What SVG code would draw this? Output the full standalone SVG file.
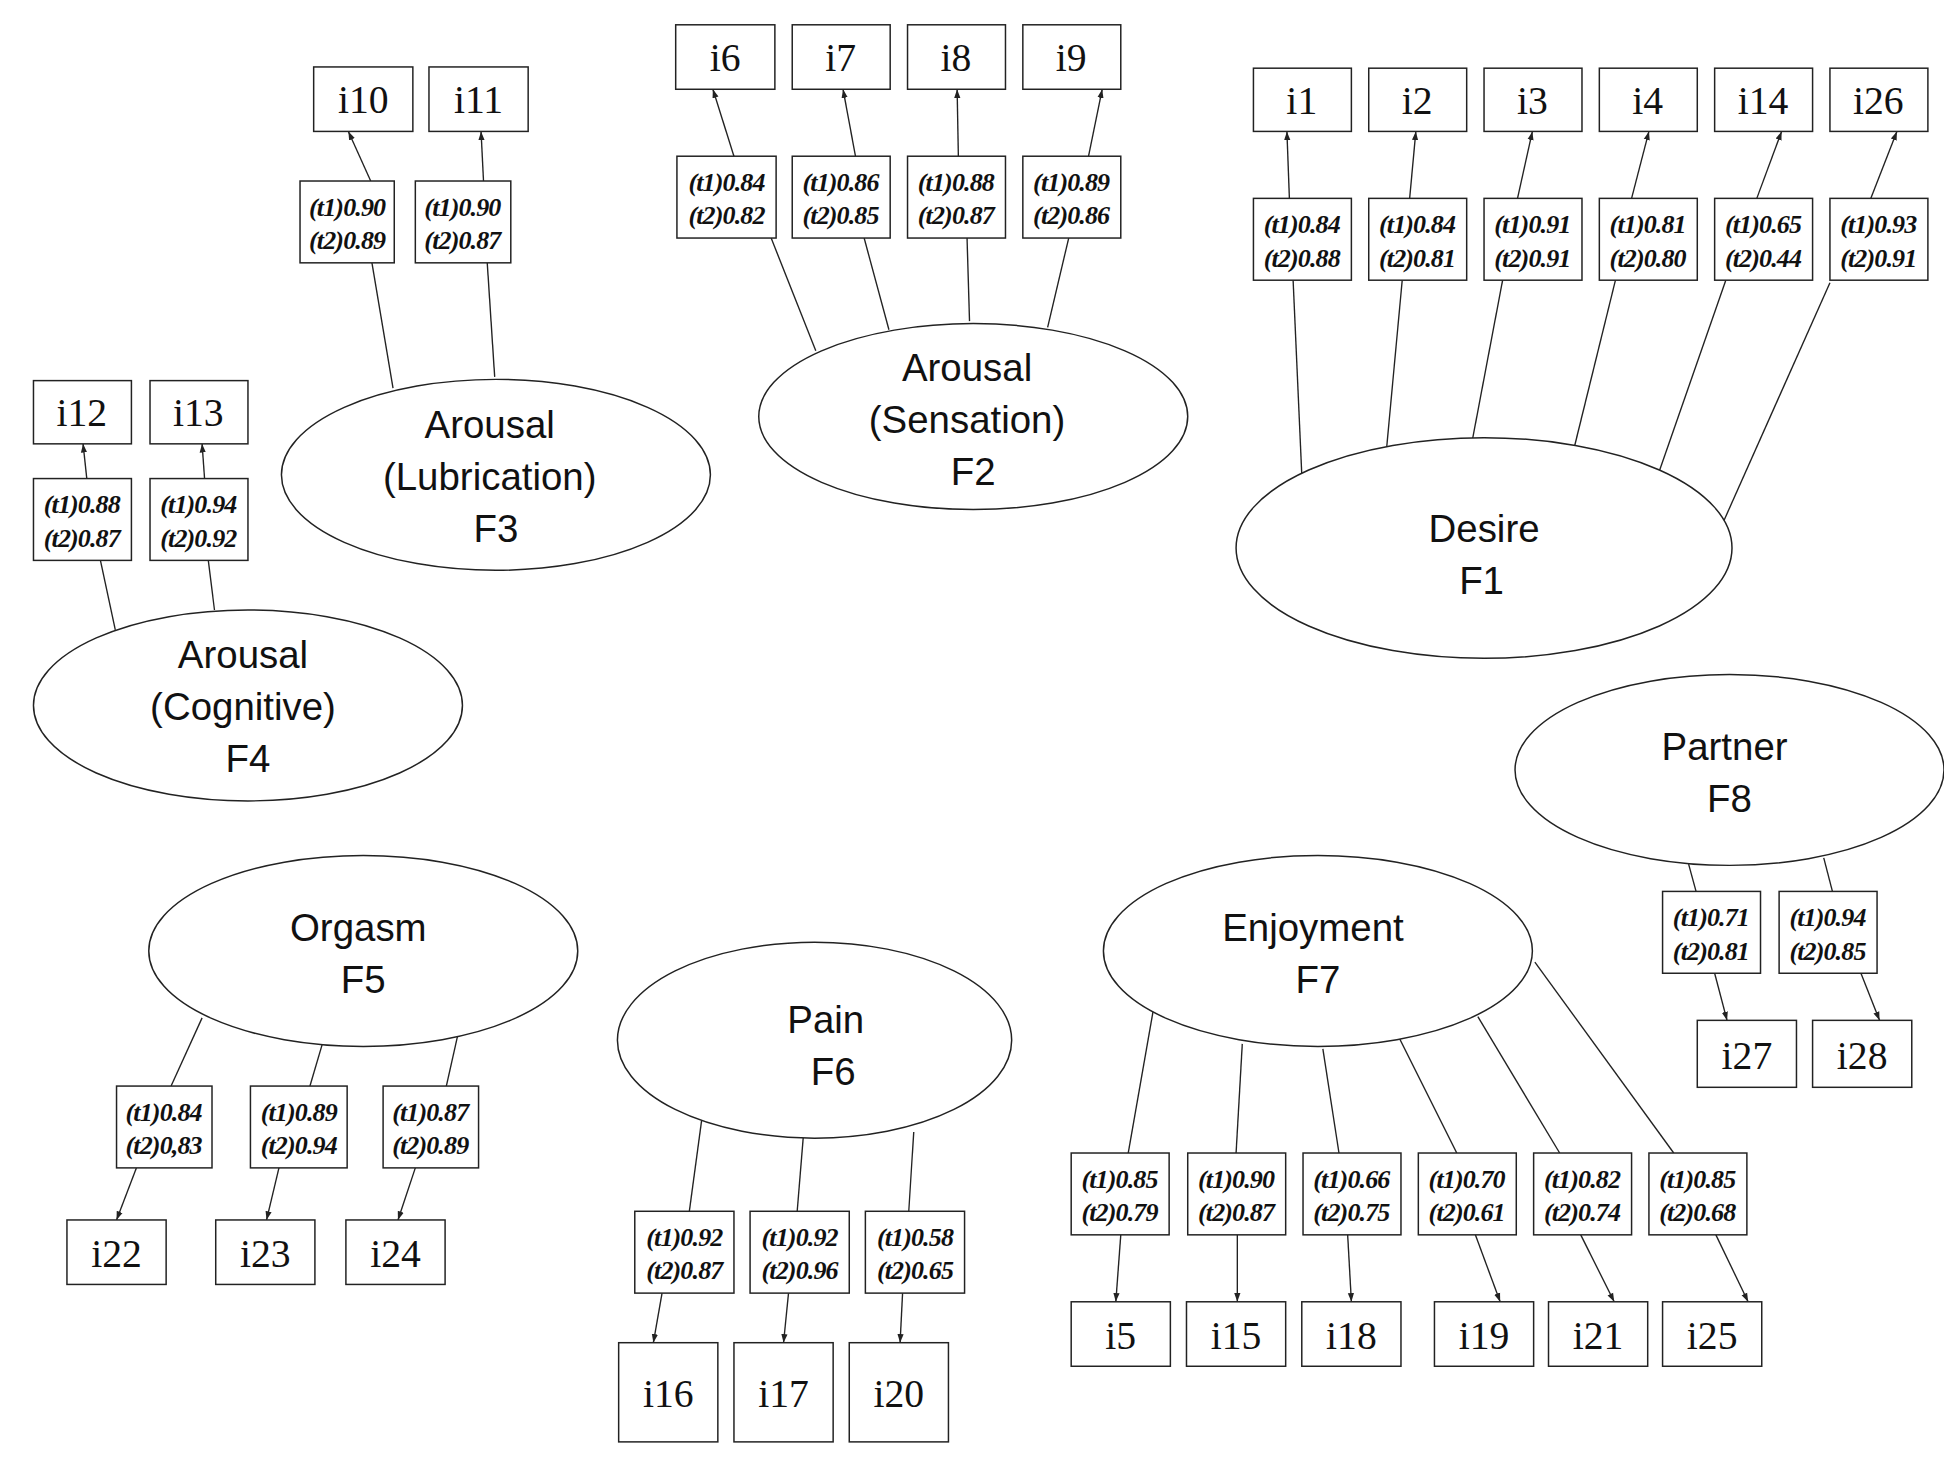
<svg xmlns="http://www.w3.org/2000/svg" width="1944" height="1459" viewBox="0 0 1944 1459">
<style>
.b{fill:#fff;stroke:#222;stroke-width:1.2}
.e{fill:#fff;stroke:#222;stroke-width:1.2}
.it{font-family:"Liberation Serif",serif;font-size:32px;text-anchor:middle;fill:#111}
.ld{font-family:"Liberation Serif",serif;font-size:21px;font-weight:bold;font-style:italic;letter-spacing:-0.7px;text-anchor:middle;fill:#111}
.ft{font-family:"Liberation Sans",Arial,sans-serif;font-size:31px;text-anchor:middle;fill:#111}
.c line{stroke:#222;stroke-width:1.1}
</style>
<defs><marker id="a" markerWidth="8" markerHeight="8" refX="7" refY="4" orient="auto" markerUnits="userSpaceOnUse"><path d="M0,1.5 L7,4 L0,6.5 Z" fill="#222"/></marker></defs>
<rect width="1944" height="1459" fill="#fff"/>
<g transform="scale(1.2398)">
<g class="c" id="connectors">
<line x1="317" y1="313" x2="300" y2="212"/><line x1="299" y1="146" x2="281" y2="106" marker-end="url(#a)"/>
<line x1="399" y1="304" x2="393" y2="212"/><line x1="390" y1="146" x2="388" y2="106" marker-end="url(#a)"/>
<line x1="658" y1="283" x2="622" y2="192"/><line x1="592" y1="126" x2="575" y2="72" marker-end="url(#a)"/>
<line x1="717" y1="266" x2="697" y2="192"/><line x1="690" y1="126" x2="680" y2="72" marker-end="url(#a)"/>
<line x1="782" y1="259" x2="780" y2="192"/><line x1="773" y1="126" x2="772" y2="72" marker-end="url(#a)"/>
<line x1="845" y1="264" x2="862" y2="192"/><line x1="878" y1="126" x2="889" y2="72" marker-end="url(#a)"/>
<line x1="1050" y1="383" x2="1043" y2="226"/><line x1="1040" y1="160" x2="1038" y2="106" marker-end="url(#a)"/>
<line x1="1118" y1="366" x2="1131" y2="226"/><line x1="1137" y1="160" x2="1142" y2="106" marker-end="url(#a)"/>
<line x1="1187" y1="358" x2="1212" y2="226"/><line x1="1224" y1="160" x2="1236" y2="106" marker-end="url(#a)"/>
<line x1="1269" y1="364" x2="1303" y2="226"/><line x1="1316" y1="160" x2="1330" y2="106" marker-end="url(#a)"/>
<line x1="1337" y1="384" x2="1392" y2="226"/><line x1="1417" y1="160" x2="1437" y2="106" marker-end="url(#a)"/>
<line x1="1390" y1="421" x2="1476" y2="228"/><line x1="1509" y1="160" x2="1530" y2="106" marker-end="url(#a)"/>
<line x1="93" y1="508" x2="81" y2="452"/><line x1="70" y1="386" x2="67" y2="358" marker-end="url(#a)"/>
<line x1="173" y1="492" x2="168" y2="452"/><line x1="165" y1="386" x2="163" y2="358" marker-end="url(#a)"/>
<line x1="163" y1="821" x2="138" y2="876"/><line x1="110" y1="942" x2="94" y2="984" marker-end="url(#a)"/>
<line x1="260" y1="842" x2="250" y2="876"/><line x1="225" y1="942" x2="215" y2="984" marker-end="url(#a)"/>
<line x1="369" y1="836" x2="360" y2="876"/><line x1="335" y1="942" x2="321" y2="984" marker-end="url(#a)"/>
<line x1="566" y1="903" x2="556" y2="977"/><line x1="534" y1="1043" x2="527" y2="1083" marker-end="url(#a)"/>
<line x1="648" y1="916" x2="643" y2="977"/><line x1="636" y1="1043" x2="632" y2="1083" marker-end="url(#a)"/>
<line x1="737" y1="913" x2="733" y2="977"/><line x1="728" y1="1043" x2="726" y2="1083" marker-end="url(#a)"/>
<line x1="930" y1="816" x2="910" y2="930"/><line x1="904" y1="996" x2="900" y2="1050" marker-end="url(#a)"/>
<line x1="1002" y1="842" x2="997" y2="930"/><line x1="998" y1="996" x2="998" y2="1050" marker-end="url(#a)"/>
<line x1="1067" y1="846" x2="1080" y2="930"/><line x1="1087" y1="996" x2="1090" y2="1050" marker-end="url(#a)"/>
<line x1="1129" y1="838" x2="1175" y2="930"/><line x1="1190" y1="996" x2="1210" y2="1050" marker-end="url(#a)"/>
<line x1="1192" y1="820" x2="1258" y2="930"/><line x1="1275" y1="996" x2="1302" y2="1050" marker-end="url(#a)"/>
<line x1="1238" y1="776" x2="1350" y2="930"/><line x1="1384" y1="996" x2="1410" y2="1050" marker-end="url(#a)"/>
<line x1="1362" y1="697" x2="1368" y2="719"/><line x1="1383" y1="785" x2="1393" y2="823" marker-end="url(#a)"/>
<line x1="1471" y1="692" x2="1478" y2="719"/><line x1="1501" y1="785" x2="1516" y2="823" marker-end="url(#a)"/>
</g>
<g id="F3"><ellipse class="e" cx="400" cy="383" rx="173" ry="77"/><text class="ft" x="395" y="353">Arousal</text><text class="ft" x="395" y="395">(Lubrication)</text><text class="ft" x="400" y="437">F3</text></g>
<g id="F2"><ellipse class="e" cx="785" cy="336" rx="173" ry="75"/><text class="ft" x="780" y="307">Arousal</text><text class="ft" x="780" y="349">(Sensation)</text><text class="ft" x="785" y="391">F2</text></g>
<g id="F1"><ellipse class="e" cx="1197" cy="442" rx="200" ry="89"/><text class="ft" x="1197" y="437">Desire</text><text class="ft" x="1195" y="479">F1</text></g>
<g id="F4"><ellipse class="e" cx="200" cy="569" rx="173" ry="77"/><text class="ft" x="196" y="539">Arousal</text><text class="ft" x="196" y="581">(Cognitive)</text><text class="ft" x="200" y="623">F4</text></g>
<g id="F5"><ellipse class="e" cx="293" cy="767" rx="173" ry="77"/><text class="ft" x="289" y="759">Orgasm</text><text class="ft" x="293" y="801">F5</text></g>
<g id="F6"><ellipse class="e" cx="657" cy="839" rx="159" ry="79"/><text class="ft" x="666" y="833">Pain</text><text class="ft" x="672" y="875">F6</text></g>
<g id="F7"><ellipse class="e" cx="1063" cy="767" rx="173" ry="77"/><text class="ft" x="1059" y="759">Enjoyment</text><text class="ft" x="1063" y="801">F7</text></g>
<g id="F8"><ellipse class="e" cx="1395" cy="621" rx="173" ry="77"/><text class="ft" x="1391" y="613">Partner</text><text class="ft" x="1395" y="655">F8</text></g>
<g id="i10"><rect class="b" x="253" y="54" width="80" height="52"/><text class="it" x="293" y="91">i10</text></g>
<g id="i11"><rect class="b" x="346" y="54" width="80" height="52"/><text class="it" x="386" y="91">i11</text></g>
<g id="i6"><rect class="b" x="545" y="20" width="80" height="52"/><text class="it" x="585" y="57">i6</text></g>
<g id="i7"><rect class="b" x="639" y="20" width="79" height="52"/><text class="it" x="678" y="57">i7</text></g>
<g id="i8"><rect class="b" x="732" y="20" width="79" height="52"/><text class="it" x="771" y="57">i8</text></g>
<g id="i9"><rect class="b" x="825" y="20" width="79" height="52"/><text class="it" x="864" y="57">i9</text></g>
<g id="i1"><rect class="b" x="1011" y="55" width="79" height="51"/><text class="it" x="1050" y="92">i1</text></g>
<g id="i2"><rect class="b" x="1104" y="55" width="79" height="51"/><text class="it" x="1143" y="92">i2</text></g>
<g id="i3"><rect class="b" x="1197" y="55" width="79" height="51"/><text class="it" x="1236" y="92">i3</text></g>
<g id="i4"><rect class="b" x="1290" y="55" width="79" height="51"/><text class="it" x="1329" y="92">i4</text></g>
<g id="i14"><rect class="b" x="1383" y="55" width="79" height="51"/><text class="it" x="1422" y="92">i14</text></g>
<g id="i26"><rect class="b" x="1476" y="55" width="79" height="51"/><text class="it" x="1515" y="92">i26</text></g>
<g id="i12"><rect class="b" x="27" y="307" width="79" height="51"/><text class="it" x="66" y="344">i12</text></g>
<g id="i13"><rect class="b" x="121" y="307" width="79" height="51"/><text class="it" x="160" y="344">i13</text></g>
<g id="i22"><rect class="b" x="54" y="984" width="80" height="52"/><text class="it" x="94" y="1022">i22</text></g>
<g id="i23"><rect class="b" x="174" y="984" width="80" height="52"/><text class="it" x="214" y="1022">i23</text></g>
<g id="i24"><rect class="b" x="279" y="984" width="80" height="52"/><text class="it" x="319" y="1022">i24</text></g>
<g id="i16"><rect class="b" x="499" y="1083" width="80" height="80"/><text class="it" x="539" y="1135">i16</text></g>
<g id="i17"><rect class="b" x="592" y="1083" width="80" height="80"/><text class="it" x="632" y="1135">i17</text></g>
<g id="i20"><rect class="b" x="685" y="1083" width="80" height="80"/><text class="it" x="725" y="1135">i20</text></g>
<g id="i5"><rect class="b" x="864" y="1050" width="80" height="52"/><text class="it" x="904" y="1088">i5</text></g>
<g id="i15"><rect class="b" x="957" y="1050" width="80" height="52"/><text class="it" x="997" y="1088">i15</text></g>
<g id="i18"><rect class="b" x="1050" y="1050" width="80" height="52"/><text class="it" x="1090" y="1088">i18</text></g>
<g id="i19"><rect class="b" x="1157" y="1050" width="80" height="52"/><text class="it" x="1197" y="1088">i19</text></g>
<g id="i21"><rect class="b" x="1249" y="1050" width="80" height="52"/><text class="it" x="1289" y="1088">i21</text></g>
<g id="i25"><rect class="b" x="1341" y="1050" width="80" height="52"/><text class="it" x="1381" y="1088">i25</text></g>
<g id="i27"><rect class="b" x="1369" y="823" width="80" height="54"/><text class="it" x="1409" y="862">i27</text></g>
<g id="i28"><rect class="b" x="1462" y="823" width="80" height="54"/><text class="it" x="1502" y="862">i28</text></g>
<g id="L10"><rect class="b" x="242" y="146" width="76" height="66"/><text class="ld" x="280" y="174">(t1)0.90</text><text class="ld" x="280" y="201">(t2)0.89</text></g>
<g id="L11"><rect class="b" x="335" y="146" width="77" height="66"/><text class="ld" x="373" y="174">(t1)0.90</text><text class="ld" x="373" y="201">(t2)0.87</text></g>
<g id="L6"><rect class="b" x="546" y="126" width="80" height="66"/><text class="ld" x="586" y="154">(t1)0.84</text><text class="ld" x="586" y="181">(t2)0.82</text></g>
<g id="L7"><rect class="b" x="639" y="126" width="79" height="66"/><text class="ld" x="678" y="154">(t1)0.86</text><text class="ld" x="678" y="181">(t2)0.85</text></g>
<g id="L8"><rect class="b" x="732" y="126" width="79" height="66"/><text class="ld" x="771" y="154">(t1)0.88</text><text class="ld" x="771" y="181">(t2)0.87</text></g>
<g id="L9"><rect class="b" x="825" y="126" width="79" height="66"/><text class="ld" x="864" y="154">(t1)0.89</text><text class="ld" x="864" y="181">(t2)0.86</text></g>
<g id="L1"><rect class="b" x="1011" y="160" width="79" height="66"/><text class="ld" x="1050" y="188">(t1)0.84</text><text class="ld" x="1050" y="215">(t2)0.88</text></g>
<g id="L2"><rect class="b" x="1104" y="160" width="79" height="66"/><text class="ld" x="1143" y="188">(t1)0.84</text><text class="ld" x="1143" y="215">(t2)0.81</text></g>
<g id="L3"><rect class="b" x="1197" y="160" width="79" height="66"/><text class="ld" x="1236" y="188">(t1)0.91</text><text class="ld" x="1236" y="215">(t2)0.91</text></g>
<g id="L4"><rect class="b" x="1290" y="160" width="79" height="66"/><text class="ld" x="1329" y="188">(t1)0.81</text><text class="ld" x="1329" y="215">(t2)0.80</text></g>
<g id="L14"><rect class="b" x="1383" y="160" width="79" height="66"/><text class="ld" x="1422" y="188">(t1)0.65</text><text class="ld" x="1422" y="215">(t2)0.44</text></g>
<g id="L26"><rect class="b" x="1476" y="160" width="79" height="66"/><text class="ld" x="1515" y="188">(t1)0.93</text><text class="ld" x="1515" y="215">(t2)0.91</text></g>
<g id="L12"><rect class="b" x="27" y="386" width="79" height="66"/><text class="ld" x="66" y="414">(t1)0.88</text><text class="ld" x="66" y="441">(t2)0.87</text></g>
<g id="L13"><rect class="b" x="121" y="386" width="79" height="66"/><text class="ld" x="160" y="414">(t1)0.94</text><text class="ld" x="160" y="441">(t2)0.92</text></g>
<g id="L22"><rect class="b" x="94" y="876" width="77" height="66"/><text class="ld" x="132" y="904">(t1)0.84</text><text class="ld" x="132" y="931">(t2)0,83</text></g>
<g id="L23"><rect class="b" x="202" y="876" width="78" height="66"/><text class="ld" x="241" y="904">(t1)0.89</text><text class="ld" x="241" y="931">(t2)0.94</text></g>
<g id="L24"><rect class="b" x="309" y="876" width="77" height="66"/><text class="ld" x="347" y="904">(t1)0.87</text><text class="ld" x="347" y="931">(t2)0.89</text></g>
<g id="L16"><rect class="b" x="512" y="977" width="80" height="66"/><text class="ld" x="552" y="1005">(t1)0.92</text><text class="ld" x="552" y="1032">(t2)0.87</text></g>
<g id="L17"><rect class="b" x="605" y="977" width="80" height="66"/><text class="ld" x="645" y="1005">(t1)0.92</text><text class="ld" x="645" y="1032">(t2)0.96</text></g>
<g id="L20"><rect class="b" x="698" y="977" width="80" height="66"/><text class="ld" x="738" y="1005">(t1)0.58</text><text class="ld" x="738" y="1032">(t2)0.65</text></g>
<g id="L5"><rect class="b" x="864" y="930" width="79" height="66"/><text class="ld" x="903" y="958">(t1)0.85</text><text class="ld" x="903" y="985">(t2)0.79</text></g>
<g id="L15"><rect class="b" x="958" y="930" width="79" height="66"/><text class="ld" x="997" y="958">(t1)0.90</text><text class="ld" x="997" y="985">(t2)0.87</text></g>
<g id="L18"><rect class="b" x="1051" y="930" width="79" height="66"/><text class="ld" x="1090" y="958">(t1)0.66</text><text class="ld" x="1090" y="985">(t2)0.75</text></g>
<g id="L19"><rect class="b" x="1144" y="930" width="79" height="66"/><text class="ld" x="1183" y="958">(t1)0.70</text><text class="ld" x="1183" y="985">(t2)0.61</text></g>
<g id="L21"><rect class="b" x="1237" y="930" width="79" height="66"/><text class="ld" x="1276" y="958">(t1)0.82</text><text class="ld" x="1276" y="985">(t2)0.74</text></g>
<g id="L25"><rect class="b" x="1330" y="930" width="79" height="66"/><text class="ld" x="1369" y="958">(t1)0.85</text><text class="ld" x="1369" y="985">(t2)0.68</text></g>
<g id="L27"><rect class="b" x="1341" y="719" width="79" height="66"/><text class="ld" x="1380" y="747">(t1)0.71</text><text class="ld" x="1380" y="774">(t2)0.81</text></g>
<g id="L28"><rect class="b" x="1435" y="719" width="79" height="66"/><text class="ld" x="1474" y="747">(t1)0.94</text><text class="ld" x="1474" y="774">(t2)0.85</text></g>
</g>
</svg>
